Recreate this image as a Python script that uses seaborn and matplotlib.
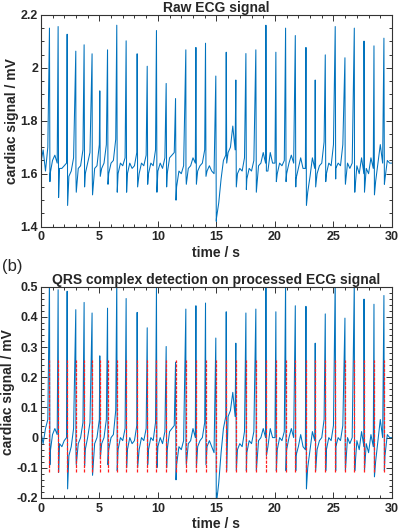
import numpy as np
import pandas as pd
import matplotlib
matplotlib.use('Agg')
import matplotlib.pyplot as plt
from matplotlib.ticker import MultipleLocator, FuncFormatter
import seaborn as sns

# R peak times (s), shared by both panels
beat_t = np.array([0.74, 1.48, 2.25, 2.99, 3.70, 4.38, 5.04, 5.70, 6.49, 7.29, 8.23, 9.09,
                   9.88, 10.71, 11.51, 12.39, 13.25, 14.07, 14.95, 15.84, 16.66, 17.52, 18.37, 19.23,
                   20.08, 20.91, 21.74, 22.65, 23.44, 24.30, 25.15, 25.98, 26.78, 27.61, 28.46, 29.31])

# raw signal: R peak heights and S dips (mV)
raw_peak = [2.150, 2.156, 2.127, 2.063, 2.087, 2.053, 1.913, 2.068, 2.161, 2.102, 2.053, 2.006,
            2.141, 1.941, 1.884, 2.068, 2.077, 2.093, 1.969, 2.059, 1.954, 2.054, 2.068, 2.161,
            2.059, 2.150, 2.122, 2.077, 1.954, 2.049, 2.156, 2.038, 2.150, 2.101, 2.083, 2.112]
raw_dip = [1.57, 1.51, 1.48, 1.53, 1.55, 1.52, 1.59, 1.56, 1.53, 1.53, 1.55, 1.56,
           1.53, 1.55, 1.50, 1.56, 1.56, 1.59, 1.42, 1.64, 1.55, 1.54, 1.53, 1.61,
           1.57, 1.57, 1.55, 1.48, 1.55, 1.57, 1.58, 1.56, 1.53, 1.53, 1.52, 1.56]
# raw signal between beats, every 0.2 s from 0 to 30 s
raw_base = [1.64, 1.69, 1.61, 1.70, 1.60, 1.65, 1.67, 1.64, 1.62, 1.62,
            1.63, 1.64, 1.59, 1.61, 1.66, 1.60, 1.62, 1.63, 1.69, 1.60,
            1.64, 1.68, 1.58, 1.62, 1.63, 1.71, 1.62, 1.64, 1.71, 1.60,
            1.64, 1.65, 1.73, 1.60, 1.64, 1.63, 1.66, 1.60, 1.64, 1.62,
            1.63, 1.68, 1.60, 1.64, 1.63, 1.67, 1.60, 1.64, 1.63, 1.69,
            1.61, 1.64, 1.62, 1.66, 1.60, 1.66, 1.67, 1.68, 1.55, 1.61,
            1.60, 1.63, 1.60, 1.62, 1.63, 1.66, 1.64, 1.61, 1.63, 1.64,
            1.69, 1.61, 1.63, 1.61, 1.60, 1.43, 1.49, 1.58, 1.65, 1.67,
            1.68, 1.70, 1.78, 1.69, 1.60, 1.62, 1.61, 1.66, 1.58, 1.62,
            1.61, 1.65, 1.56, 1.63, 1.64, 1.68, 1.64, 1.61, 1.68, 1.64,
            1.64, 1.60, 1.64, 1.63, 1.65, 1.60, 1.64, 1.67, 1.64, 1.58,
            1.62, 1.66, 1.62, 1.62, 1.53, 1.59, 1.66, 1.62, 1.60, 1.63,
            1.64, 1.72, 1.60, 1.64, 1.63, 1.71, 1.62, 1.64, 1.63, 1.71,
            1.60, 1.64, 1.62, 1.64, 1.56, 1.63, 1.60, 1.66, 1.60, 1.62,
            1.60, 1.66, 1.62, 1.57, 1.64, 1.71, 1.64, 1.58, 1.65, 1.64,
            1.64]

# processed signal: R peak heights and S dips (mV)
ecg_peak = [0.53, 0.49, 0.485, 0.424, 0.448, 0.413, 0.271, 0.429, 0.53, 0.461, 0.415, 0.364,
            0.50, 0.302, 0.25, 0.426, 0.437, 0.446, 0.330, 0.417, 0.313, 0.413, 0.426, 0.53,
            0.417, 0.52, 0.437, 0.435, 0.313, 0.41, 0.53, 0.396, 0.52, 0.459, 0.442, 0.471]
ecg_dip = [-0.09, -0.115, -0.17, -0.09, -0.095, -0.125, -0.07, -0.09, -0.11, -0.10, -0.10, -0.09,
           -0.10, -0.10, -0.14, -0.09, -0.10, -0.09, -0.23, -0.11, -0.11, -0.11, -0.11, -0.06,
           -0.11, -0.11, -0.11, -0.17, -0.11, -0.11, -0.11, -0.11, -0.11, -0.11, -0.13, -0.11]
# processed signal between beats, every 0.2 s from 0 to 30 s
ecg_base = [0.02, -0.02, 0.03, 0.06, -0.05, 0.01, 0.03, 0.01, -0.02, -0.03,
            -0.01, 0.00, -0.06, -0.03, 0.03, -0.04, -0.02, 0.00, 0.05, -0.04,
            0.00, 0.05, -0.07, -0.02, 0.00, 0.06, -0.02, 0.00, 0.06, -0.04,
            0.00, 0.01, 0.09, -0.04, 0.00, -0.01, 0.03, -0.04, 0.00, -0.02,
            -0.01, 0.04, -0.04, 0.00, -0.01, 0.03, -0.04, 0.00, -0.01, 0.05,
            -0.03, 0.00, -0.02, 0.02, -0.04, 0.02, 0.03, 0.04, -0.09, -0.03,
            -0.04, -0.01, -0.05, -0.02, -0.01, 0.03, 0.00, -0.03, -0.01, 0.00,
            0.05, -0.03, -0.01, -0.03, -0.05, -0.22, -0.15, -0.05, 0.03, 0.07,
            0.07, 0.09, 0.15, 0.07, -0.04, -0.02, -0.03, 0.02, -0.05, -0.01,
            -0.02, 0.02, -0.08, -0.01, 0.00, 0.03, 0.00, -0.03, 0.03, 0.00,
            0.00, -0.04, 0.00, -0.01, 0.02, -0.04, 0.00, 0.03, 0.00, -0.06,
            -0.03, 0.01, -0.03, -0.04, -0.10, -0.04, 0.02, -0.01, -0.04, -0.01,
            0.00, 0.06, -0.04, 0.00, -0.01, 0.04, -0.03, 0.00, -0.01, 0.04,
            -0.04, 0.00, -0.02, 0.00, -0.08, -0.01, -0.04, 0.02, -0.03, -0.02,
            -0.05, 0.01, -0.03, -0.08, -0.01, 0.06, 0.00, -0.06, 0.01, 0.00,
            0.00]

# detection markers span (mV)
det_low, det_high = -0.113, 0.257

grid_t = np.linspace(0, 30, len(raw_base))


def build_trace(base, peak, dip):
    t = np.concatenate([grid_t, beat_t, beat_t + 0.04])
    v = np.concatenate([base, peak, dip])
    order = np.argsort(t, kind='stable')
    return pd.DataFrame({'t': t[order], 'v': v[order]})


raw = build_trace(raw_base, raw_peak, raw_dip)
ecg = build_trace(ecg_base, ecg_peak, ecg_dip)

sns.set_style('ticks')
plt.rcParams['font.family'] = ['Liberation Sans', 'DejaVu Sans']
plt.rcParams['font.weight'] = 'bold'
plt.rcParams['axes.unicode_minus'] = False

blue = '#0072BD'
fig = plt.figure(figsize=(4.0, 5.32), dpi=100)
ax1 = fig.add_axes([0.102, 0.574, 0.878, 0.398])
ax2 = fig.add_axes([0.102, 0.064, 0.878, 0.397])

sns.lineplot(data=raw, x='t', y='v', ax=ax1, color=blue, lw=0.75, estimator=None)
sns.lineplot(data=ecg, x='t', y='v', ax=ax2, color=blue, lw=0.75, estimator=None)
ax2.vlines(beat_t, det_low, det_high, colors='#ff2020', linestyles=(0, (2.5, 1)),
           lw=0.9, zorder=3)

fmt = FuncFormatter(lambda v, p: f'{round(v, 3) + 0:g}')

ax1.set_ylim(1.4, 2.2)
ax1.yaxis.set_major_locator(MultipleLocator(0.2))
ax1.yaxis.set_minor_locator(MultipleLocator(0.05))
ax2.set_ylim(-0.2, 0.5)
ax2.yaxis.set_major_locator(MultipleLocator(0.1))
ax2.yaxis.set_minor_locator(MultipleLocator(0.02))

for ax, title in [(ax1, 'Raw ECG signal'), (ax2, 'QRS complex detection on processed ECG signal')]:
    ax.set_xlim(0, 30)
    ax.xaxis.set_major_locator(MultipleLocator(5))
    ax.xaxis.set_minor_locator(MultipleLocator(1))
    ax.yaxis.set_major_formatter(fmt)
    ax.tick_params(which='both', direction='in', top=True, right=True, labelsize=9,
                   width=0.7, color='#333333')
    ax.tick_params(axis='x', pad=3.5)
    ax.tick_params(axis='y', pad=2)
    ax.tick_params(which='major', length=4)
    ax.tick_params(which='minor', length=2.2)
    for s in ax.spines.values():
        s.set_linewidth(0.8)
        s.set_color('#333333')
    ax.set_title(title, fontsize=10, fontweight='bold', pad=2)
    ax.set_xlabel('time / s', fontsize=10, fontweight='bold', labelpad=1.5)
    ax.set_ylabel('cardiac signal / mV', fontsize=10, fontweight='bold', labelpad=1)

fig.text(0.004, 0.5, '(b)', fontsize=12, fontweight='normal', va='center', ha='left')

fig.savefig('out.png', dpi=100)
